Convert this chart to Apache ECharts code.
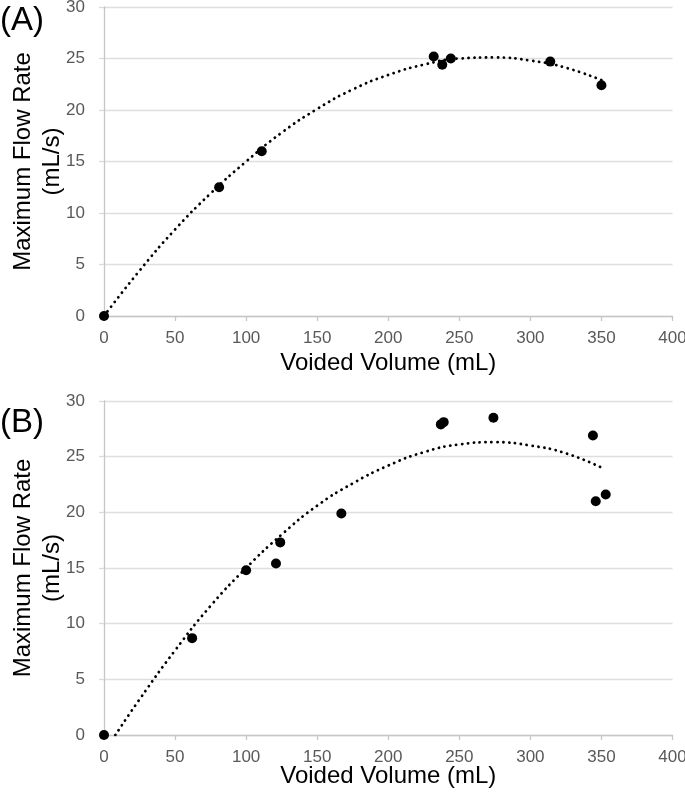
<!DOCTYPE html>
<html>
<head>
<meta charset="utf-8">
<script src="https://cdn.jsdelivr.net/npm/echarts@6/dist/echarts.min.js"></script>
<style>html,body{margin:0;padding:0;background:#fff}#c{width:685px;height:796px}</style>
</head>
<body>
<div id="c"></div>
<script>
// Panel A data
const volA = [0, 81, 111, 232, 238, 244, 314, 350];
const flowA = [0, 12.5, 16.0, 25.2, 24.4, 25.0, 24.7, 22.4];
const trendAX = [0, 25, 50, 75, 100, 125, 150, 175, 200, 225, 250, 275, 300, 325, 350];
const trendAY = [0, 4.4, 8.4, 11.9, 15.0, 17.8, 20.1, 22.0, 23.4, 24.4, 25.0, 25.1, 24.8, 24.1, 22.9];
// Panel B data
const volB = [0, 62, 100, 121, 124, 167, 237, 239, 274, 344, 346, 353];
const flowB = [0, 8.7, 14.8, 15.4, 17.3, 19.9, 27.9, 28.1, 28.5, 26.9, 21.0, 21.6];
const trendBX = [8, 25, 50, 75, 100, 125, 150, 175, 200, 225, 250, 275, 300, 325, 352];
const trendBY = [0, 3.2, 7.6, 11.6, 15.0, 18.0, 20.6, 22.6, 24.2, 25.4, 26.1, 26.3, 26.0, 25.3, 23.9];
// Axis ticks
const xTicks = [0, 50, 100, 150, 200, 250, 300, 350, 400];
const yTicks = [0, 5, 10, 15, 20, 25, 30];

const zip = (a, b) => a.map((v, i) => [v, b[i]]);
const labelFont = { color: '#595959', fontSize: 17, fontFamily: '"Liberation Sans Narrow", "Liberation Sans", Arial, sans-serif' };
const titleFont = { color: '#000', fontSize: 24, fontFamily: '"Liberation Sans", Arial, sans-serif', lineHeight: 29 };

function xAxis(gi, gap) {
  return {
    type: 'value', gridIndex: gi, min: xTicks[0], max: xTicks[xTicks.length - 1], interval: 50,
    name: 'Voided Volume (mL)', nameLocation: 'middle', nameGap: gap, nameMoveOverlap: false, nameTextStyle: titleFont,
    axisLine: { show: true, lineStyle: { color: '#c6c6c6', width: 1.3 } },
    axisTick: { show: true, length: 5, lineStyle: { color: '#c6c6c6', width: 1.3 } },
    axisLabel: Object.assign({ margin: 14 }, labelFont),
    splitLine: { show: false }
  };
}
function yAxis(gi) {
  return {
    type: 'value', gridIndex: gi, min: yTicks[0], max: yTicks[yTicks.length - 1], interval: 5,
    name: 'Maximum Flow Rate\n(mL/s)', nameLocation: 'middle', nameGap: 37, nameRotate: 90, nameMoveOverlap: false, nameTextStyle: titleFont,
    axisLine: { show: true, lineStyle: { color: '#c6c6c6', width: 1.3 } },
    axisTick: { show: true, length: 5, lineStyle: { color: '#d9d9d9', width: 1.3 } },
    axisLabel: Object.assign({ margin: 19 }, labelFont),
    splitLine: { show: true, lineStyle: { color: '#dedede', width: 1.3 } }
  };
}
const trendStyle = { color: '#000', width: 2.8, type: [0.1, 5.8], cap: 'round' };

const chart = echarts.init(document.getElementById('c'), null, { renderer: 'canvas' });
chart.setOption({
  backgroundColor: '#fff',
  animation: false,
  grid: [
    { left: 104, right: 12.5, top: 7, height: 309, outerBoundsMode: 'none' },
    { left: 104, right: 12.5, top: 401, height: 334, outerBoundsMode: 'none' }
  ],
  xAxis: [xAxis(0, 33), xAxis(1, 27)],
  yAxis: [yAxis(0), yAxis(1)],
  graphic: [
    { type: 'text', left: 0, top: 4, style: { text: '(A)', fontSize: 33, fill: '#000', fontFamily: '"Liberation Sans", Arial, sans-serif' } },
    { type: 'text', left: 0, top: 406, style: { text: '(B)', fontSize: 33, fill: '#000', fontFamily: '"Liberation Sans", Arial, sans-serif' } }
  ],
  series: [
    { type: 'line', xAxisIndex: 0, yAxisIndex: 0, data: zip(trendAX, trendAY), smooth: true, showSymbol: false, lineStyle: trendStyle, z: 1 },
    { type: 'scatter', xAxisIndex: 0, yAxisIndex: 0, data: zip(volA, flowA), symbolSize: 10, itemStyle: { color: '#000', opacity: 1 }, z: 3 },
    { type: 'line', xAxisIndex: 1, yAxisIndex: 1, data: zip(trendBX, trendBY), smooth: true, showSymbol: false, lineStyle: trendStyle, z: 1 },
    { type: 'scatter', xAxisIndex: 1, yAxisIndex: 1, data: zip(volB, flowB), symbolSize: 10, itemStyle: { color: '#000', opacity: 1 }, z: 3 }
  ]
});
</script>
</body>
</html>
